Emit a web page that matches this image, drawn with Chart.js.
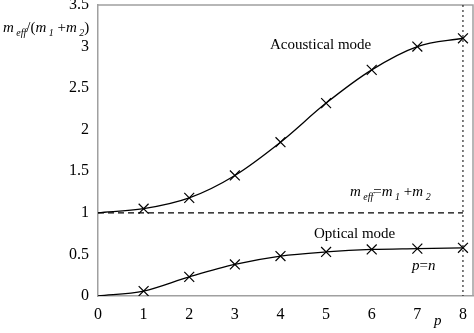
<!DOCTYPE html>
<html>
<head>
<meta charset="utf-8">
<script src="https://cdn.jsdelivr.net/npm/chart.js@4"></script>
<style>
  html, body { margin: 0; padding: 0; background: #fff; }
  #wrap { width: 474px; height: 333px; position: relative; }
</style>
</head>
<body>
<div id="wrap"><canvas id="chart"></canvas></div>
<script>
// mode number p and effective mass ratios
const pValues = [0, 1, 2, 3, 4, 5, 6, 7, 8];
const acoustical = [1.0, 1.05, 1.18, 1.45, 1.85, 2.32, 2.72, 3.0, 3.1];
const optical = [0.0, 0.06, 0.23, 0.38, 0.48, 0.53, 0.56, 0.57, 0.58];
const sumLine = [1, 1];
const sumLineX = [0, 8];
const xTicks = [0, 1, 2, 3, 4, 5, 6, 7, 8];
const yTicks = [0, 0.5, 1, 1.5, 2, 2.5, 3, 3.5];
const nLast = 8;

const SERIF = '"Liberation Serif", "Times New Roman", serif';
const GRAY = '#a0a0a0';

const toPoints = (xs, ys) => xs.map((x, i) => ({ x, y: ys[i] }));
// no cross on the p = 0 start point
const crossRadius = (ctx) => (ctx.dataIndex === 0 ? 0 : 7);

// text runs with italic and subscript parts
const drawRuns = (ctx, runs, x, y) => {
  let cx = x;
  runs.forEach((r) => {
    const size = r.sub ? 10 : 15;
    ctx.font = `${r.i ? 'italic ' : ''}${size}px ${SERIF}`;
    ctx.fillText(r.t, cx, r.sub ? y + 4 : y);
    cx += ctx.measureText(r.t).width;
  });
};

const labelsPlugin = {
  id: 'labels',
  afterDraw(chart) {
    const { ctx, chartArea: a, scales } = chart;
    ctx.save();
    // frame on top and right
    ctx.strokeStyle = GRAY;
    ctx.lineWidth = 1.5;
    ctx.beginPath();
    ctx.moveTo(a.left, a.top);
    ctx.lineTo(a.right, a.top);
    ctx.lineTo(a.right, a.bottom);
    ctx.stroke();

    // p = n marker line
    const xn = scales.x.getPixelForValue(nLast);
    ctx.strokeStyle = '#000';
    ctx.lineWidth = 1;
    ctx.setLineDash([2, 3]);
    ctx.beginPath();
    ctx.moveTo(xn, a.top);
    ctx.lineTo(xn, a.bottom);
    ctx.stroke();
    ctx.setLineDash([]);

    ctx.fillStyle = '#000';
    ctx.textBaseline = 'alphabetic';
    ctx.textAlign = 'left';
    drawRuns(ctx, [
      { t: 'm', i: true }, { t: ' eff', i: true, sub: true }, { t: '/(' },
      { t: 'm', i: true }, { t: ' 1', i: true, sub: true }, { t: ' +' },
      { t: 'm', i: true }, { t: ' 2', i: true, sub: true }, { t: ')' }
    ], 3, 32);
    drawRuns(ctx, [{ t: 'Acoustical mode' }], 270, 49);
    drawRuns(ctx, [
      { t: 'm', i: true }, { t: ' eff', i: true, sub: true }, { t: '=' },
      { t: 'm', i: true }, { t: ' 1', i: true, sub: true }, { t: ' +' },
      { t: 'm', i: true }, { t: ' 2', i: true, sub: true }
    ], 350, 196);
    drawRuns(ctx, [{ t: 'Optical mode' }], 314, 238);
    drawRuns(ctx, [{ t: 'p', i: true }, { t: '=' }, { t: 'n', i: true }], 412, 270);
    drawRuns(ctx, [{ t: 'p', i: true }], 434, 325);
    ctx.restore();
  }
};

const curve = (data) => ({
  data: toPoints(pValues, data),
  borderColor: '#000',
  borderWidth: 1.3,
  pointStyle: 'crossRot',
  pointRadius: crossRadius,
  pointBorderColor: '#000',
  pointBorderWidth: 1.2,
  cubicInterpolationMode: 'monotone',
  fill: false
});

new Chart(document.getElementById('chart'), {
  type: 'line',
  data: {
    datasets: [
      curve(acoustical),
      curve(optical),
      {
        data: toPoints(sumLineX, sumLine),
        borderColor: '#000',
        borderWidth: 1.2,
        borderDash: [6, 4],
        pointRadius: 0
      }
    ]
  },
  options: {
    responsive: true,
    maintainAspectRatio: false,
    animation: false,
    layout: { autoPadding: false, padding: { top: 5, right: 1, left: 0, bottom: 0 } },
    plugins: { legend: { display: false }, tooltip: { enabled: false } },
    scales: {
      x: {
        type: 'linear',
        min: 0,
        max: 8.22,
        afterBuildTicks: (s) => { s.ticks = xTicks.map((v) => ({ value: v })); },
        afterFit: (s) => { s.height = 37; s.paddingLeft = 0; s.paddingRight = 0; },
        grid: { display: false, drawTicks: true, tickLength: 4, color: GRAY },
        border: { color: GRAY, width: 1.5 },
        ticks: { color: '#000', font: { family: SERIF, size: 16 }, padding: 5, maxRotation: 0 }
      },
      y: {
        min: 0,
        max: 3.5,
        afterBuildTicks: (s) => { s.ticks = yTicks.map((v) => ({ value: v })); },
        afterFit: (s) => { s.width = 98; s.paddingTop = 0; s.paddingBottom = 0; },
        grid: { display: false, drawTicks: true, tickLength: 4, color: GRAY },
        border: { color: GRAY, width: 1.5 },
        ticks: { color: '#000', font: { family: SERIF, size: 16 }, padding: 5, callback: (v) => String(v) }
      }
    }
  },
  plugins: [labelsPlugin]
});
</script>
</body>
</html>
